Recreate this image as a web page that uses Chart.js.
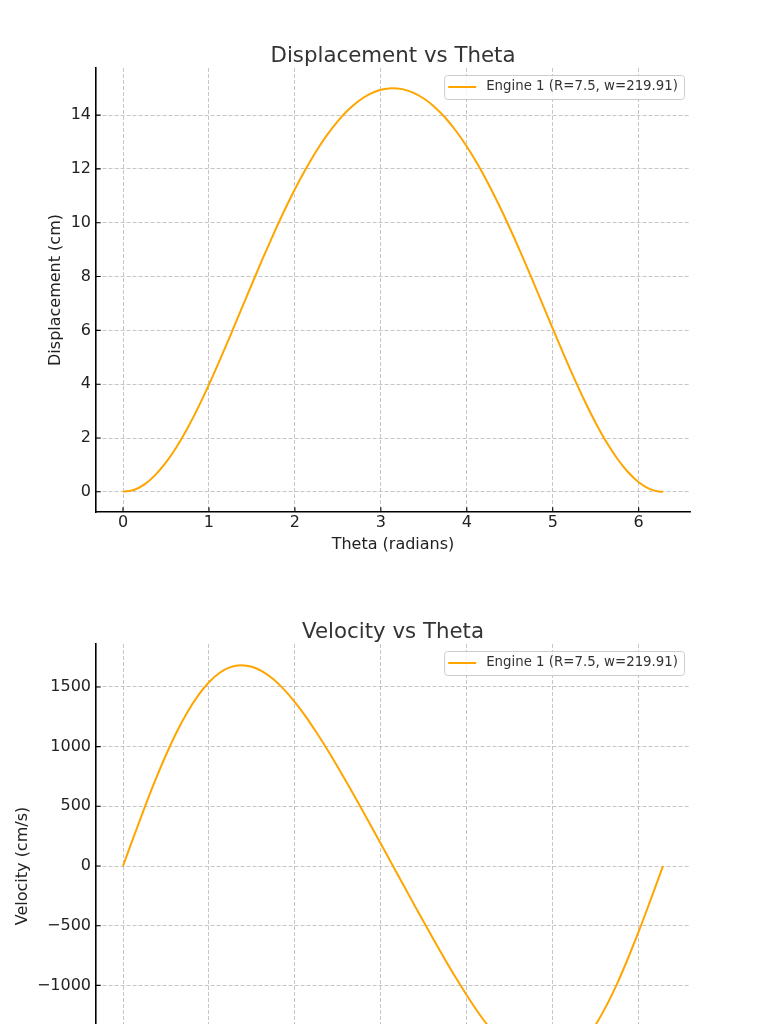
<!DOCTYPE html>
<html>
<head>
<meta charset="utf-8">
<script src="https://cdn.jsdelivr.net/npm/chart.js@4.4.1/dist/chart.umd.min.js"></script>
<style>
html, body { margin: 0; padding: 0; background: #ffffff; overflow: hidden; width: 768px; height: 1024px; }
.wrap { width: 768px; height: 576px; position: relative; }
canvas { display: block; }
</style>
</head>
<body>
<div class="wrap"><canvas id="c1" width="768" height="576"></canvas></div>
<div class="wrap"><canvas id="c2" width="768" height="576"></canvas></div>
<script>
// ---- data ----
const theta = [0, 0.125, 0.25, 0.375, 0.5, 0.625, 0.75, 0.875, 1, 1.125, 1.25, 1.375, 1.5, 1.625, 1.75, 1.875,
  2, 2.125, 2.25, 2.375, 2.5, 2.625, 2.75, 2.875, 3, 3.125, 3.25, 3.375, 3.5, 3.625, 3.75, 3.875,
  4, 4.125, 4.25, 4.375, 4.5, 4.625, 4.75, 4.875, 5, 5.125, 5.25, 5.375, 5.5, 5.625, 5.75, 5.875,
  6, 6.125, 6.25, 6.2832];
const displacement = [0, 0.070, 0.279, 0.622, 1.091, 1.675, 2.362, 3.137, 3.983, 4.882, 5.817, 6.770, 7.723, 8.662, 9.570, 10.436,
  11.246, 11.987, 12.668, 13.265, 13.778, 14.205, 14.542, 14.787, 14.940, 14.999, 14.965, 14.837, 14.616, 14.303, 13.900, 13.409,
  12.834, 12.180, 11.451, 10.657, 9.805, 8.906, 7.975, 7.023, 6.069, 5.127, 4.217, 3.355, 2.560, 1.848, 1.239, 0.735,
  0.357, 0.112, 0.005, 0];
const velocity = [0, 246, 487, 717, 930, 1123, 1290, 1430, 1540, 1619, 1666, 1682, 1669, 1629, 1564, 1478,
  1373, 1254, 1120, 978, 828, 672, 513, 350, 187, 22, -143, -307, -470, -630, -787, -939,
  -1083, -1219, -1342, -1451, -1543, -1614, -1661, -1681, -1673, -1634, -1564, -1462, -1330, -1170, -985, -775,
  -550, -311, -66, 0];
const xTicks = [0, 1, 2, 3, 4, 5, 6];
const dispTicks = [0, 2, 4, 6, 8, 10, 12, 14];
const velTicks = [-1500, -1000, -500, 0, 500, 1000, 1500];
const seriesLabel = 'Engine 1 (R=7.5, w=219.91)';
const chartTitles = ['Displacement vs Theta', 'Velocity vs Theta'];
const yAxisLabels = ['Displacement (cm)', 'Velocity (cm/s)'];
const xAxisLabel = 'Theta (radians)';

const FONT = "'DejaVu Sans', 'Liberation Sans', sans-serif";
const LINE_COLOR = '#FFA500';
const fmt = v => (v < 0 ? '\u2212' + Math.abs(v) : String(v));

const innerTicks = {
  id: 'innerTicks',
  afterDatasetsDraw(chart) {
    const { ctx, chartArea: a, scales: { x, y } } = chart;
    ctx.save();
    ctx.strokeStyle = '#000';
    ctx.lineWidth = 1.1;
    ctx.beginPath();
    x.ticks.forEach(t => {
      const p = x.getPixelForValue(t.value);
      if (p < a.left || p > a.right) return;
      ctx.moveTo(p, a.bottom); ctx.lineTo(p, a.bottom - 4.7);
    });
    y.ticks.forEach(t => {
      const p = y.getPixelForValue(t.value);
      if (p < a.top || p > a.bottom) return;
      ctx.moveTo(a.left, p); ctx.lineTo(a.left + 4.7, p);
    });
    ctx.stroke();
    ctx.restore();
  }
};

const mplTitle = {
  id: 'mplTitle',
  afterDraw(chart, args, opts) {
    const { ctx, chartArea: a } = chart;
    ctx.save();
    ctx.font = '21.33px ' + FONT;
    ctx.fillStyle = '#333333';
    ctx.textAlign = 'center';
    ctx.textBaseline = 'alphabetic';
    ctx.fillText(opts.text, (a.left + a.right) / 2, a.top - 6);
    ctx.restore();
  }
};

const mplLegend = {
  id: 'mplLegend',
  afterDraw(chart) {
    const { ctx, chartArea: a } = chart;
    const ds = chart.data.datasets[0];
    ctx.save();
    ctx.font = '13.33px ' + FONT;
    const tw = ctx.measureText(ds.label).width;
    const w = 4 + 28 + 10 + tw + 6;
    const h = 24;
    const right = a.right - 6;
    const left = right - w;
    const top = a.top + 7;
    ctx.beginPath();
    if (ctx.roundRect) ctx.roundRect(left + 0.5, top + 0.5, w, h, 3);
    else ctx.rect(left + 0.5, top + 0.5, w, h);
    ctx.fillStyle = 'rgba(255,255,255,0.8)';
    ctx.fill();
    ctx.strokeStyle = '#cccccc';
    ctx.lineWidth = 1;
    ctx.stroke();
    const cy = top + 12;
    ctx.beginPath();
    ctx.moveTo(left + 4, cy); ctx.lineTo(left + 32, cy);
    ctx.strokeStyle = ds.borderColor;
    ctx.lineWidth = 2;
    ctx.stroke();
    ctx.fillStyle = '#333333';
    ctx.textAlign = 'left';
    ctx.textBaseline = 'middle';
    ctx.fillText(ds.label, left + 42, cy);
    ctx.restore();
  }
};

function makeChart(id, values, title, yLabel, yTicks, yMin, yMax, yTitlePad) {
  return new Chart(document.getElementById(id), {
    type: 'line',
    data: {
      datasets: [{
        label: seriesLabel,
        data: theta.map((t, i) => ({ x: t, y: values[i] })),
        borderColor: LINE_COLOR,
        backgroundColor: LINE_COLOR,
        borderWidth: 2,
        pointRadius: 0,
        cubicInterpolationMode: 'monotone',
        fill: false
      }]
    },
    options: {
      responsive: false,
      animation: false,
      devicePixelRatio: 1,
      layout: { padding: { top: 68, right: 78, bottom: 0, left: 0 } },
      plugins: {
        legend: { display: false },
        title: { display: false },
        tooltip: { enabled: false },
        mplTitle: { text: title }
      },
      scales: {
        x: {
          type: 'linear',
          min: -0.3142,
          max: 6.5973,
          afterBuildTicks: s => { s.ticks = xTicks.map(v => ({ value: v })); },
          afterFit: s => { s.height = 64; },
          ticks: { autoSkip: false, maxRotation: 0, padding: 1.5, color: '#222222', font: { family: FONT, size: 16 }, callback: v => fmt(v) },
          grid: { color: '#b8b8b8', lineWidth: 0.8, drawTicks: false },
          border: { display: true, color: '#000000', width: 1.6, dash: [4, 2] },
          title: { display: true, text: xAxisLabel, color: '#222222', font: { family: FONT, size: 16 }, padding: { top: 0, bottom: 22 } }
        },
        y: {
          type: 'linear',
          min: yMin,
          max: yMax,
          afterBuildTicks: s => { s.ticks = yTicks.map(v => ({ value: v })); },
          afterFit: s => { s.width = 96; },
          ticks: { autoSkip: false, padding: 5, color: '#222222', font: { family: FONT, size: 16 }, callback: v => fmt(v) },
          grid: { color: '#b8b8b8', lineWidth: 0.8, drawTicks: false },
          border: { display: true, color: '#000000', width: 1.6, dash: [4, 2] },
          title: { display: true, text: yLabel, color: '#222222', font: { family: FONT, size: 16 }, padding: { top: yTitlePad, bottom: 0 } }
        }
      }
    },
    plugins: [innerTicks, mplTitle, mplLegend]
  });
}

makeChart('c1', displacement, chartTitles[0], yAxisLabels[0], dispTicks, -0.75, 15.75, 46.6);
makeChart('c2', velocity, chartTitles[1], yAxisLabels[1], velTicks, -1860, 1860, 13.3);
</script>
</body>
</html>
